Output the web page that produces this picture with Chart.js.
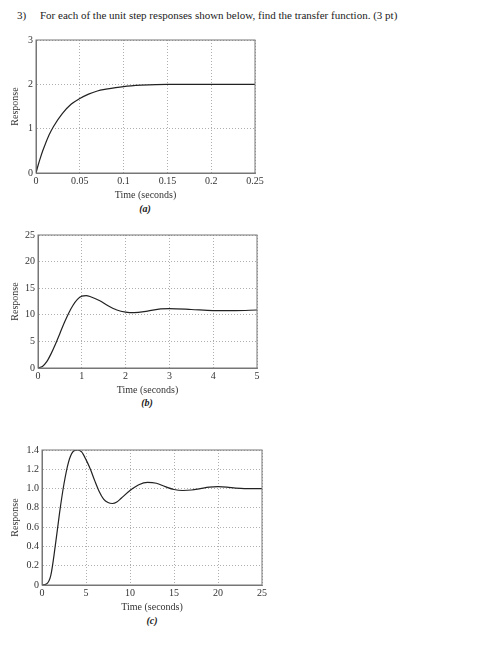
<!DOCTYPE html>
<html><head><meta charset="utf-8">
<script src="https://cdn.jsdelivr.net/npm/chart.js@4"></script>
<style>
body{margin:0;background:#fff;width:502px;height:647px;position:relative;font-family:"Liberation Serif","DejaVu Serif",serif;color:#222}
.t{position:absolute;font-size:11px;white-space:nowrap}
.c{position:absolute;left:0}
.lab{position:absolute;font-size:10px;font-style:italic;font-weight:bold;transform:translateX(-50%)}
</style></head><body>
<div class="t" style="left:17px;top:9px">3)</div>
<div class="t" style="left:40px;top:9px">For each of the unit step responses shown below, find the transfer function. (3 pt)</div>
<canvas id="ca" class="c"></canvas>
<canvas id="cb" class="c"></canvas>
<canvas id="cc" class="c"></canvas>
<div class="lab" style="left:145px;top:203px">(<i>a</i>)</div>
<div class="lab" style="left:147px;top:397px">(<i>b</i>)</div>
<div class="lab" style="left:152px;top:615px">(<i>c</i>)</div>
<script>
const tA=[0,0.0025,0.005,0.0075,0.01,0.015,0.02,0.03,0.04,0.05,0.06,0.07,0.08,0.1,0.12,0.15,0.2,0.25];
const yA=[0,0.18,0.34,0.49,0.62,0.86,1.05,1.34,1.55,1.68,1.78,1.85,1.89,1.95,1.98,2,2,2];
const tB=[0,0.1,0.2,0.3,0.4,0.5,0.6,0.7,0.8,0.9,1.0,1.1,1.2,1.4,1.6,1.8,2.0,2.2,2.5,2.8,3.0,3.5,4,4.5,5];
const yB=[0,0.3,1.2,2.7,4.5,6.5,8.5,10.3,11.8,12.9,13.5,13.6,13.4,12.7,11.7,10.9,10.5,10.4,10.7,11.1,11.15,11.0,10.8,10.8,10.9];
const tC=[0,0.5,1,1.5,2,2.5,3,3.5,4,4.5,5,5.5,6,6.5,7,7.5,8,8.5,9,10,11,12,13,14,15,16,17,18,19,20,21,22,23,25];
const yC=[0,0.01,0.1,0.4,0.75,1.05,1.27,1.38,1.40,1.38,1.30,1.2,1.08,0.97,0.89,0.855,0.845,0.86,0.9,0.98,1.04,1.065,1.055,1.02,0.99,0.98,0.985,1.0,1.015,1.02,1.015,1.005,1.0,1.0];
const xTicksA=[0,0.05,0.1,0.15,0.2,0.25], yTicksA=[0,1,2,3];
const xTicksB=[0,1,2,3,4,5], yTicksB=[0,5,10,15,20,25];
const xTicksC=[0,5,10,15,20,25], yTicksC=[0,0.2,0.4,0.6,0.8,1.0,1.2,1.4];

function make(id,L,T,R,B,tx,ty,xt,yt,yfmt){
  const padT=8,padR=14,padL=9,xH=28;
  const cv=document.getElementById(id);
  const W=R+padR,H=B-T+padT+xH;
  cv.width=W;cv.height=H;cv.style.top=(T-padT)+'px';cv.style.width=W+'px';cv.style.height=H+'px';
  const font={family:'"Liberation Serif", "DejaVu Serif", serif',size:10};
  const grid={color:'#9a9a9a',drawTicks:false,lineWidth:0.8};
  new Chart(cv,{type:'scatter',data:{datasets:[{data:tx.map((x,i)=>({x,y:ty[i]})),showLine:true,borderColor:'#222',borderWidth:1.2,pointRadius:0,cubicInterpolationMode:'monotone',fill:false}]},
  options:{responsive:false,animation:false,plugins:{legend:{display:false},tooltip:{enabled:false}},
   layout:{padding:{top:padT,right:padR,left:padL,bottom:0}},
   scales:{
    x:{type:'linear',min:xt[0],max:xt[xt.length-1],afterBuildTicks:s=>{s.ticks=xt.map(v=>({value:v}))},afterFit:s=>{s.height=xH},
       grid:grid,border:{color:'#777',dash:[1,2]},ticks:{font,color:'#333',padding:2,callback:v=>String(v),maxRotation:0,autoSkip:false},
       title:{display:true,text:'Time (seconds)',font,color:'#333',padding:{top:1,bottom:0}}},
    y:{type:'linear',min:yt[0],max:yt[yt.length-1],afterBuildTicks:s=>{s.ticks=yt.map(v=>({value:v}))},afterFit:s=>{s.width=L-padL},
       grid:grid,border:{color:'#777',dash:[1,2]},ticks:{font,color:'#333',padding:3,callback:yfmt,autoSkip:false},
       title:{display:true,text:'Response',font,color:'#333',padding:{top:0,bottom:2}}}
   }},
  plugins:[{id:'frame',afterDraw(c){const a=c.chartArea,x=c.ctx;x.save();x.setLineDash([]);x.strokeStyle='#777';x.lineWidth=1;x.strokeRect(a.left,a.top,a.right-a.left,a.bottom-a.top);x.restore();}}]
  });
}
make('ca',36,39,255,173,tA,yA,xTicksA,yTicksA,v=>String(v));
make('cb',38,234,257,368,tB,yB,xTicksB,yTicksB,v=>String(v));
make('cc',42,449,262,585,tC,yC,xTicksC,yTicksC,v=>v===0?'0':v.toFixed(1));
</script></body></html>
